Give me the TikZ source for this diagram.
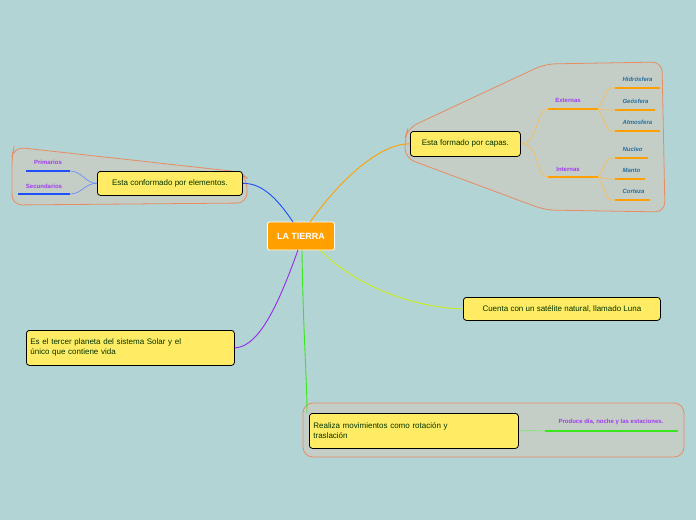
\documentclass[tikz,border=0pt]{standalone}
\usepackage{fontspec}
\setmainfont{Liberation Sans}
\begin{document}
\begin{tikzpicture}[x=1pt,y=-1pt,
 box/.style={draw=black,fill=ylw,rounded corners=3pt,line width=0.8pt,font=\fontsize{8}{10}\selectfont,text=black!80!green,align=left,inner sep=4pt,anchor=north west},
 grp/.style={draw=salm,fill=grpf,line width=0.8pt,rounded corners=10pt},
 sub/.style={font=\bfseries\fontsize{6}{7}\selectfont,text=subc},
 leaf/.style={font=\bfseries\itshape\fontsize{6}{7}\selectfont,text=leafc}]
\definecolor{bg}{RGB}{178,212,212}
\definecolor{ylw}{RGB}{255,236,100}
\definecolor{salm}{RGB}{232,140,100}
\definecolor{grpf}{RGB}{196,206,198}
\definecolor{org}{RGB}{255,160,0}
\definecolor{subc}{RGB}{160,60,240}
\definecolor{leafc}{RGB}{40,110,160}
\definecolor{blu}{RGB}{30,80,255}
\definecolor{grn}{RGB}{60,230,30}
\definecolor{lim}{RGB}{200,240,30}
\definecolor{vio}{RGB}{150,40,240}
\fill[bg] (0,0) rectangle (696,520);
\useasboundingbox (0,0) rectangle (696,520);
% groups
\draw[grp] (405,138) -- (408,128) -- (545,64) -- (662,62) -- (665,212) -- (545,210) -- (405,158) -- cycle;
\draw[grp] (12,156) -- (14,147) -- (240,172) -- (247,178) -- (247,203) -- (12,205) -- cycle;
\draw[grp] (303,403) rectangle (684,457);
% nodes
\node[draw=white,fill=org,rounded corners=2pt,line width=0.8pt,text=white,font=\bfseries\fontsize{9}{10}\selectfont,minimum width=67pt,minimum height=28pt] (t) at (301,236) {LA TIERRA};
\node[box,minimum width=110pt,minimum height=25pt] (c) at (410,131) {Esta formado por capas.};
\node[box,minimum width=145pt,minimum height=24pt] (e) at (97,171) {Esta conformado por elementos.};
\node[box,minimum width=197pt,minimum height=23pt] (l) at (463,297) {Cuenta con un satélite natural, llamado Luna};
\node[box,text width=200pt,minimum height=35pt] (p) at (26,330) {Es el tercer planeta del sistema Solar y el\\ único que contiene vida};
\node[box,text width=201pt,minimum height=35pt] (r) at (309,413) {Realiza movimientos como rotación y\\ traslación};
% connectors
\coordinate (t1) at (310,222); \coordinate (t2) at (293,222);
\coordinate (t3) at (320,250); \coordinate (t4) at (298,250); \coordinate (t5) at (302,250);
\coordinate (r1) at (307,413);
\draw[org,line width=0.9pt] (t1) .. controls (340,180) and (380,143) .. (c.west);
\draw[blu,line width=0.9pt] (t2) .. controls (275,195) and (260,183) .. (e.east);
\draw[lim,line width=0.9pt] (t3) .. controls (360,290) and (420,308) .. (l.west);
\draw[vio,line width=0.9pt] (t4) .. controls (280,300) and (260,347) .. (p.east);
\draw[grn,line width=0.9pt] (t5) .. controls (303,330) and (307,380) .. (r1);
% capas subtree
\node[sub] (ex) at (568,100) {Externas};
\node[sub] (in) at (568,169) {Internas};
\coordinate (exl) at (548,109); \coordinate (exr) at (598,109);
\coordinate (inl) at (548,177); \coordinate (inr) at (598,177);
\fill[org] (548,108) rectangle (598,110.2);
\fill[org] (548,176) rectangle (598,178.2);
\draw[org!70,line width=0.6pt] (c.east) .. controls (540,143) and (535,109) .. (exl);
\draw[org!70,line width=0.6pt] (c.east) .. controls (540,143) and (535,177) .. (inl);
\foreach \n/\t/\y/\xe/\p in {h/Hidrósfera/79/660/ex,g/Geósfera/101/655/ex,a/Atmosfera/122/660/ex,n/Nucleo/149/648/in,m/Manto/170/645/in,k/Corteza/191/650/in}{
 \node[leaf,anchor=west] (\n) at (619,\y) {\t};
 \coordinate (\n-l) at (615,\y+9);
 \fill[org] (615,\y+8) rectangle (\xe,\y+10.2);
 \draw[org!70,line width=0.6pt] (\p r) .. controls (610,\y+9) and (605,\y+9) .. (\n-l);
}
% elementos subtree
\node[sub] (pr) at (48,162) {Primarios};
\node[sub] (se) at (44,186) {Secundarios};
\coordinate (prr) at (70,171); \coordinate (ser) at (70,194);
\fill[blu] (26,170) rectangle (70,172.2);
\fill[blu] (18,193) rectangle (70,195.2);
\draw[blu!70,line width=0.6pt] (e.west) .. controls (85,183) and (82,171) .. (prr);
\draw[blu!70,line width=0.6pt] (e.west) .. controls (85,183) and (82,194) .. (ser);
% movimientos subtree
\node[sub] (pd) at (611,422) {Produce día, noche y las estaciones.};
\coordinate (pdl) at (545,431);
\fill[grn] (545,430) rectangle (678,432.2);
\draw[grn!70,line width=0.6pt] (r.east) .. controls (530,430) and (535,431) .. (pdl);
\end{tikzpicture}
\end{document}
